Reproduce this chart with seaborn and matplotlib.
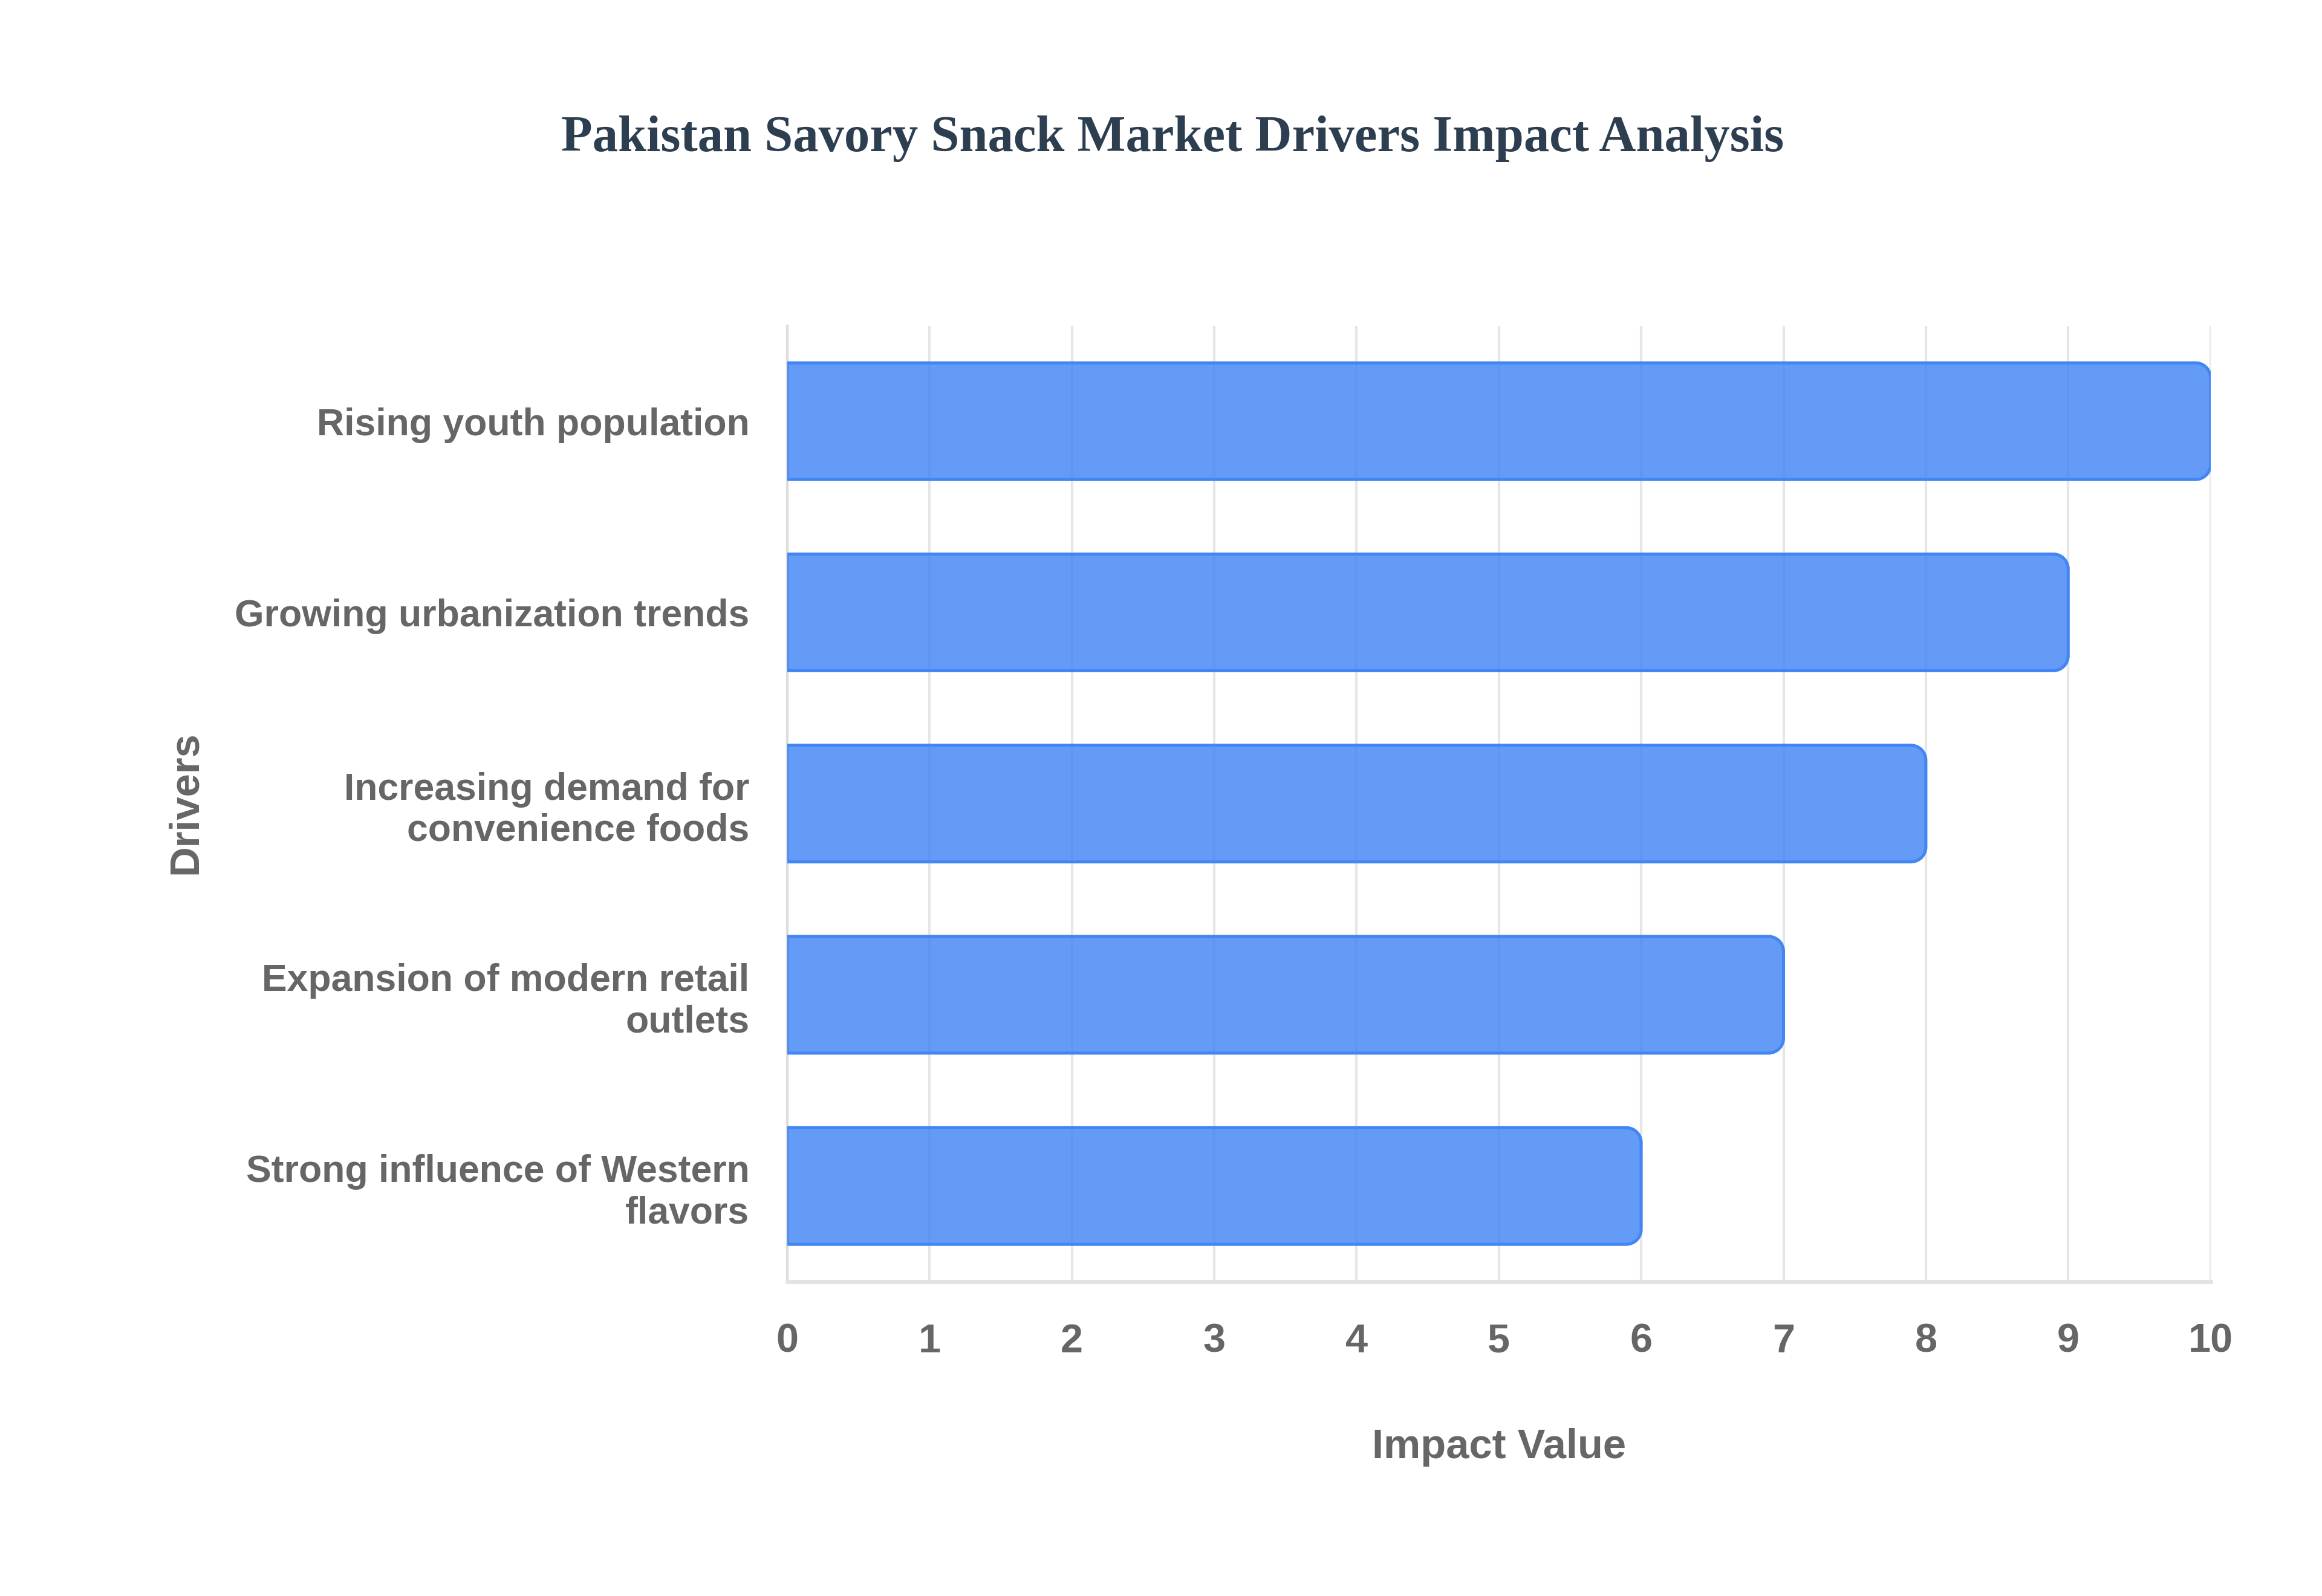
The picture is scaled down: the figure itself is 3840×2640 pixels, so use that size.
import numpy as np
import pandas as pd
import seaborn as sns
import matplotlib.pyplot as plt
from matplotlib.path import Path
from matplotlib.patches import PathPatch

# data
drivers = [
    "Rising youth population",
    "Growing urbanization trends",
    "Increasing demand for\nconvenience foods",
    "Expansion of modern retail\noutlets",
    "Strong influence of Western\nflavors",
]
impact = [10, 9, 8, 7, 6]

df = pd.DataFrame({"driver": drivers, "impact": impact})

sns.set_theme(style="white")
sans = ["Liberation Sans", "DejaVu Sans"]
serif = ["Liberation Serif", "DejaVu Serif"]
plt.rcParams["font.family"] = sans

grey_txt = "#666666"
grid_c = "#e6e6e6"
bar_edge = "#4285F4"

fig = plt.figure(figsize=(12.8, 8.8), dpi=300)
ax = fig.add_axes([0.339, 0.197, 0.613, 0.599])

sns.barplot(data=df, x="impact", y="driver", orient="h", width=0.61,
            color=bar_edge, ax=ax)


def rounded_right(x0, y0, w, h, rx, ry):
    # rectangle with rounded corners on the right side only
    k = 0.5523
    x1 = x0 + w
    y1 = y0 + h
    verts = [
        (x0, y0), (x1 - rx, y0),
        (x1 - rx + k * rx, y0), (x1, y0 + ry - k * ry), (x1, y0 + ry),
        (x1, y1 - ry),
        (x1, y1 - ry + k * ry), (x1 - rx + k * rx, y1), (x1 - rx, y1),
        (x0, y1), (x0, y0),
    ]
    codes = [Path.MOVETO, Path.LINETO,
             Path.CURVE4, Path.CURVE4, Path.CURVE4,
             Path.LINETO,
             Path.CURVE4, Path.CURVE4, Path.CURVE4,
             Path.LINETO, Path.CLOSEPOLY]
    return Path(verts, codes)


ax.set_xlim(0, 10)
ax.set_ylim(4.5, -0.5)

for p in list(ax.patches):
    x0, y0 = p.get_x(), p.get_y()
    w, h = p.get_width(), p.get_height()
    p.set_visible(False)
    path = rounded_right(x0, y0, w, h, 0.105, 0.078)
    ax.add_patch(PathPatch(path, facecolor=bar_edge, alpha=0.82,
                           edgecolor="none", zorder=3))
    ax.add_patch(PathPatch(path, facecolor="none", edgecolor=bar_edge,
                           linewidth=1.2, zorder=3.5))

ax.set_xticks(range(0, 11))
ax.grid(axis="x", color=grid_c, linewidth=1.0, zorder=0)
ax.grid(axis="y", visible=False)
ax.set_axisbelow(True)

for s in ["top", "right"]:
    ax.spines[s].set_visible(False)
ax.spines["left"].set_color("#dddddd")
ax.spines["left"].set_linewidth(1.0)
ax.spines["bottom"].set_color("#e2e2e2")
ax.spines["bottom"].set_linewidth(1.6)

ax.tick_params(axis="x", length=6.5, width=1.0, color=grid_c, pad=10,
               labelsize=16, labelcolor=grey_txt)
ax.tick_params(axis="y", length=0, pad=15, labelsize=15, labelcolor=grey_txt)
for lbl in ax.get_xticklabels() + ax.get_yticklabels():
    lbl.set_fontweight("bold")
    lbl.set_family(sans)
for lbl in ax.get_yticklabels():
    lbl.set_horizontalalignment("right")
    lbl.set_multialignment("right")
    lbl.set_linespacing(1.2)

ax.set_xlabel("")
ax.set_ylabel("")
fig.text(0.5 * (0.339 + 0.952), 0.093, "Impact Value", ha="center", va="center",
         fontsize=16.5, fontweight="bold", color=grey_txt, family=sans)
fig.text(0.080, 0.497, "Drivers", ha="center", va="center", rotation=90,
         fontsize=16.5, fontweight="bold", color=grey_txt, family=sans)

fig.text(0.505, 0.913, "Pakistan Savory Snack Market Drivers Impact Analysis",
         ha="center", va="center", fontsize=20.3, fontweight="bold",
         color="#2c3e50", family=serif)

fig.savefig("out.png", dpi=300, facecolor="white")
